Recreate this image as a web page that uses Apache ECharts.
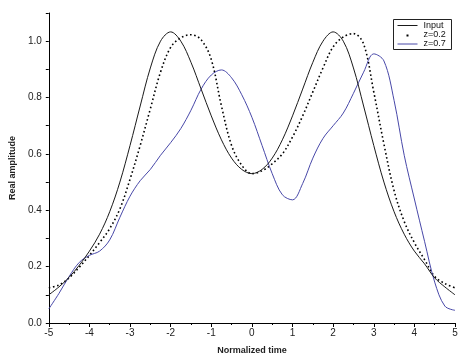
<!DOCTYPE html>
<html>
<head>
<meta charset="utf-8">
<script src="https://cdn.jsdelivr.net/npm/echarts@6/dist/echarts.min.js"></script>
<style>html,body{margin:0;padding:0;background:#fff;}#c{width:474px;height:364px;}</style>
</head>
<body>
<div id="c"></div>
<script>
const times = [-5,-4.75,-4.5,-4.25,-4,-3.75,-3.5,-3.25,-3,-2.75,-2.5,-2.25,-2,-1.75,-1.5,-1.25,-1,-0.75,-0.5,-0.25,0,
  0.25,0.5,0.75,1,1.25,1.5,1.75,2,2.25,2.5,2.75,3,3.25,3.5,3.75,4,4.25,4.5,4.75,5];
const inputVals = [0.10,0.128,0.162,0.205,0.255,0.315,0.395,0.50,0.63,0.77,0.905,1.0,1.033,1.0,0.925,0.83,0.735,0.65,0.585,0.545,0.53,
  0.545,0.585,0.65,0.735,0.83,0.925,1.0,1.033,1.0,0.905,0.77,0.63,0.50,0.395,0.315,0.255,0.21,0.16,0.128,0.10];
const z02Vals = [0.125,0.135,0.16,0.198,0.24,0.285,0.335,0.405,0.51,0.63,0.76,0.89,0.978,1.012,1.023,1.005,0.935,0.77,0.63,0.56,0.53,
  0.54,0.565,0.60,0.66,0.735,0.82,0.905,0.98,1.015,1.027,0.99,0.82,0.635,0.47,0.36,0.285,0.225,0.165,0.14,0.125];
const z07Vals = [0.05,0.105,0.165,0.215,0.24,0.255,0.295,0.375,0.45,0.505,0.545,0.595,0.64,0.69,0.755,0.83,0.88,0.898,0.87,0.81,0.73,
  0.63,0.53,0.455,0.437,0.495,0.585,0.655,0.70,0.745,0.815,0.89,0.955,0.93,0.79,0.595,0.44,0.29,0.145,0.06,0.045];
const seriesNames = ['Input','z=0.2','z=0.7'];
const xTitle = 'Normalized time';
const yTitle = 'Real amplitude';

const pair = vals => times.map((t,i)=>[t, vals[i]]);
const font = 'Liberation Sans, Arial, sans-serif';
const chart = echarts.init(document.getElementById('c'), null, {renderer:'canvas'});
const axisCommon = {
  axisLine:{show:true, onZero:false, lineStyle:{color:'#000', width:1}},
  axisTick:{show:true, inside:false, length:4, lineStyle:{color:'#000'}},
  splitLine:{show:false},
  nameTextStyle:{fontFamily:font, fontSize:9, fontWeight:'bold', color:'#222'},
  axisLabel:{fontFamily:font, fontSize:10, color:'#222'}
};
chart.setOption({
  animation:false,
  backgroundColor:'#fff',
  grid:{left:44, right:19, top:13, bottom:41, containLabel:false},
  xAxis:Object.assign({}, axisCommon, {
    type:'value', min:-5, max:5, interval:1,
    name:xTitle, nameLocation:'middle', nameGap:23,
    minorTick:{show:true, splitNumber:2, length:2, lineStyle:{color:'#000'}},
    axisLabel:Object.assign({}, axisCommon.axisLabel, {margin:5})
  }),
  yAxis:Object.assign({}, axisCommon, {
    type:'value', min:0, max:1.1, interval:0.1,
    name:yTitle, nameLocation:'middle', nameGap:30,
    axisTick:{show:true, inside:false, length:3, lineStyle:{color:'#000'}},
    axisLabel:Object.assign({}, axisCommon.axisLabel, {margin:7,
      formatter:v => (Math.round(v*10)%2===0 ? (Math.round(v*10)/10).toFixed(1) : '')})
  }),
  series:[
    {name:seriesNames[0], type:'line', data:pair(inputVals), symbol:'none', smooth:0.35,
     lineStyle:{color:'#1a1a1a', width:1}, z:3},
    {name:seriesNames[1], type:'line', data:pair(z02Vals), symbol:'none', smooth:0.35,
     lineStyle:{color:'#000', width:1.6, type:[1.6,2.6]}, z:2},
    {name:seriesNames[2], type:'line', data:pair(z07Vals), symbol:'none', smooth:0.35,
     lineStyle:{color:'#4848a8', width:1}, z:2}
  ],
  graphic:[{
    type:'group', left:393, top:19, z:100,
    children:[
      {type:'rect', shape:{x:0,y:0,width:58,height:30}, style:{fill:'#fff', stroke:'#222', lineWidth:1}},
      {type:'line', shape:{x1:4,y1:6,x2:24,y2:6}, style:{stroke:'#1a1a1a', lineWidth:1}},
      {type:'rect', shape:{x:13,y:15,width:2,height:2}, style:{fill:'#000'}},
      {type:'line', shape:{x1:4,y1:24.5,x2:24,y2:24.5}, style:{stroke:'#4848a8', lineWidth:1}},
      {type:'text', x:30, y:6, style:{text:seriesNames[0], font:'9px '+font, fill:'#111', textVerticalAlign:'middle'}},
      {type:'text', x:30, y:15.5, style:{text:seriesNames[1], font:'9px '+font, fill:'#111', textVerticalAlign:'middle'}},
      {type:'text', x:30, y:24.5, style:{text:seriesNames[2], font:'9px '+font, fill:'#111', textVerticalAlign:'middle'}}
    ]
  }]
});
</script>
</body>
</html>
